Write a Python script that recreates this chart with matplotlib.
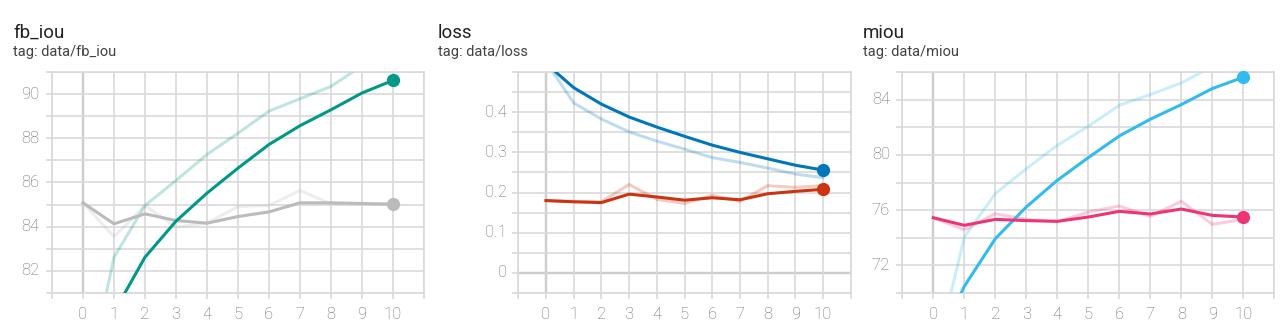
import matplotlib.pyplot as plt
from matplotlib.ticker import MultipleLocator

plt.rcParams['font.family'] = ['Roboto', 'DejaVu Sans']

steps = [0, 1, 2, 3, 4, 5, 6, 7, 8, 9, 10]

# fb_iou: raw values and smoothed curves for two runs
fb_teal_raw = [76.1, 82.62, 84.96, 86.09, 87.27, 88.23, 89.23, 89.79, 90.35, 91.28, 91.8]
fb_teal_smooth = [76.1, 80.13, 82.62, 84.25, 85.52, 86.65, 87.72, 88.57, 89.29, 90.05, 90.62]
fb_gray_raw = [85.08, 83.55, 84.96, 83.98, 84.16, 84.91, 84.96, 85.64, 85.03, 85.03, 85.0]
fb_gray_smooth = [85.08, 84.13, 84.58, 84.28, 84.16, 84.46, 84.67, 85.08, 85.08, 85.05, 85.02]

# loss
loss_blue_raw = [0.525, 0.423, 0.383, 0.351, 0.328, 0.308, 0.287, 0.275, 0.261, 0.246, 0.237]
loss_blue_smooth = [0.521, 0.461, 0.420, 0.388, 0.363, 0.340, 0.318, 0.300, 0.284, 0.268, 0.256]
loss_red_raw = [0.180, 0.178, 0.177, 0.220, 0.183, 0.173, 0.193, 0.178, 0.217, 0.213, 0.217]
loss_red_smooth = [0.180, 0.177, 0.175, 0.196, 0.189, 0.181, 0.187, 0.182, 0.197, 0.203, 0.208]

# miou
miou_cyan_raw = [64.6, 74.05, 77.19, 79.0, 80.69, 82.07, 83.59, 84.36, 85.21, 86.4, 87.0]
miou_cyan_smooth = [65.7, 70.48, 73.93, 76.23, 78.16, 79.80, 81.37, 82.58, 83.64, 84.80, 85.62]
miou_pink_raw = [75.45, 74.58, 75.74, 75.33, 75.14, 75.86, 76.30, 75.55, 76.64, 74.97, 75.33]
miou_pink_smooth = [75.45, 74.90, 75.33, 75.24, 75.19, 75.50, 75.91, 75.72, 76.08, 75.62, 75.50]

W, H = 1286, 327
fig = plt.figure(figsize=(W / 100, H / 100), dpi=100)

grid_c = '#d9d9d9'
zero_c = '#999999'
label_c = '#6e6e6e'


def panel(left, width, title, tag, tx, ylim, ymajor, yminor, fmt, series):
    ax = fig.add_axes([left / W, 1 - 293 / H, width / W, 221 / H])
    ax.set_xlim(-1, 11)
    ax.set_ylim(*ylim)
    ax.yaxis.set_major_locator(MultipleLocator(ymajor))
    ax.yaxis.set_minor_locator(MultipleLocator(yminor))
    ax.set_xticks(range(-1, 12))
    ax.set_xticklabels([''] + [str(s) for s in steps] + [''],
                       fontweight='light')
    ax.set_yticklabels([])
    ax.grid(True, which='both', color=grid_c, lw=1.2, zorder=0)
    for s in ax.spines.values():
        s.set_color(grid_c)
        s.set_linewidth(1.2)
    ax.tick_params(which='both', length=4, width=1.2, color=grid_c,
                   labelcolor=label_c, labelsize=12, pad=6)
    # y labels only on the major values inside the range
    lo, hi = ylim
    k = int(lo // ymajor) + 1
    while k * ymajor < hi - 1e-9:
        v = k * ymajor
        ax.text(-1.4, v, fmt(v), ha='right', va='center', color=label_c,
                fontsize=12, fontweight='light', clip_on=False)
        k += 1
    ax.axvline(0, color=zero_c, lw=1.6, zorder=1)
    if lo < 0 < hi:
        ax.axhline(0, color=zero_c, lw=1.6, zorder=1)
    for raw, smooth, color in series:
        ax.plot(steps, raw, color=color, alpha=0.25, lw=2.2, zorder=2)
        ax.plot(steps, smooth, color=color, lw=2.2, zorder=3)
        ax.plot(steps[-1], smooth[-1], 'o', color=color, ms=8.5, zorder=4,
                clip_on=False)
    fig.text(tx / W, 1 - 38 / H, title, fontsize=13.5, color='#212121',
             va='baseline')
    fig.text(tx / W, 1 - 56 / H, tag, fontsize=10.5, color='#424242',
             va='baseline')
    return ax


panel(52, 372, 'fb_iou', 'tag: data/fb_iou', 13, (81, 91), 2, 1,
      lambda v: f'{v:.0f}',
      [(fb_gray_raw, fb_gray_smooth, '#bbbbbb'),
       (fb_teal_raw, fb_teal_smooth, '#009988')])

panel(518.3, 332.4, 'loss', 'tag: data/loss', 438, (-0.05, 0.5), 0.1, 0.05,
      lambda v: '0' if abs(v) < 1e-9 else f'{v:.1f}',
      [(loss_blue_raw, loss_blue_smooth, '#0077bb'),
       (loss_red_raw, loss_red_smooth, '#cc3311')])

panel(902.3, 372, 'miou', 'tag: data/miou', 863, (70, 86), 4, 2,
      lambda v: f'{v:.0f}',
      [(miou_cyan_raw, miou_cyan_smooth, '#33bbee'),
       (miou_pink_raw, miou_pink_smooth, '#ee3377')])

fig.savefig('out.png', dpi=100)
